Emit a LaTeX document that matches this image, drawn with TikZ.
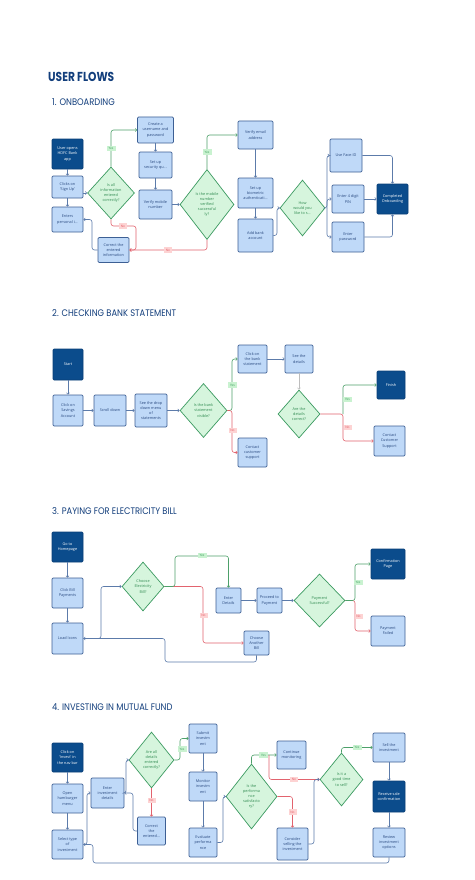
\documentclass[tikz,border=0pt]{standalone}
\usepackage{fontspec}
\usetikzlibrary{arrows.meta,shapes.geometric}
\newfontfamily\bodyf{Open Sans}
\newfontfamily\headf{Poppins}[FakeStretch=0.88]
\newfontfamily\titlef{Poppins}[FakeStretch=0.82]
\newcommand\bxf{\bodyf\fontsize{3.8}{5.2}\selectfont}
\newcommand\lblf{\bodyf\fontsize{3.2}{3.6}\selectfont}
\definecolor{boxf}{HTML}{BFD9F8}
\definecolor{boxb}{HTML}{3D5F94}
\definecolor{boxt}{HTML}{2A4A80}
\definecolor{darkf}{HTML}{0B4C8C}
\definecolor{darkb}{HTML}{0A3F78}
\definecolor{diaf}{HTML}{D6F5DD}
\definecolor{diab}{HTML}{3B9A60}
\definecolor{diat}{HTML}{2F8A50}
\definecolor{lineb}{HTML}{5C7BAA}
\definecolor{lineg}{HTML}{4DA06A}
\definecolor{liner}{HTML}{E2636E}
\definecolor{linegr}{HTML}{BDBDBD}
\definecolor{yesf}{HTML}{C9F2D0}
\definecolor{yest}{HTML}{3F9F5F}
\definecolor{nof}{HTML}{FDD3D3}
\definecolor{notx}{HTML}{E25B66}
\definecolor{headc}{HTML}{123E7C}
\tikzset{
  lbox/.style={draw=boxb, fill=boxf, rounded corners=1.2pt, line width=0.7pt, inner sep=0pt, align=center, font=\bxf, text=boxt},
  dbox/.style={lbox, fill=darkf, draw=darkb, text=white},
  dia/.style={draw=diab, fill=diaf, shape=diamond, line width=0.7pt, inner sep=0pt},
  dtext/.style={font=\bxf, text=diat, align=center, inner sep=0pt},
  conn/.style={draw=lineb, line width=0.6pt, rounded corners=2.5pt, -{Straight Barb[length=1.5pt,width=3pt]}},
  gconn/.style={conn, draw=lineg},
  rconn/.style={conn, draw=liner},
  grconn/.style={conn, draw=linegr},
  yes/.style={fill=yesf, text=yest, font=\lblf, inner sep=0pt, minimum width=9pt, minimum height=5.5pt},
  no/.style={fill=nof, text=notx, font=\lblf, inner sep=0pt, minimum width=8pt, minimum height=5.5pt},
  head/.style={anchor=west, font=\headf\fontsize{9.5}{9.5}\selectfont, text=headc, inner sep=0pt}
}
\newcommand\bx[6]{\node[#1, minimum width=#4pt, minimum height=#5pt] (#2) at #3 {#6};}
\newcommand\dm[5]{\node[dia, minimum width=#3pt, minimum height=#4pt, label={[dtext]center:{#5}}] (#1) at #2 {};}
\begin{document}
\begin{tikzpicture}[x=1pt,y=-1pt]
\useasboundingbox[fill=white] (0,0) rectangle (474,880);
\node[anchor=west, font=\titlef\bfseries\fontsize{13}{13}\selectfont, text=headc, inner sep=0pt] (title) at (48,77) {USER FLOWS};
\node[head] (h1) at (52,102.5) {1. ONBOARDING};
\node[head] (h2) at (52,313.5) {2. CHECKING BANK STATEMENT};
\node[head] (h3) at (52,511) {3. PAYING FOR ELECTRICITY BILL};
\node[head] (h4) at (52,707.5) {4. INVESTING IN MUTUAL FUND};

% ---------- 1 ----------
\bx{dbox}{u1}{(67.5,154)}{31}{30}{User opens\\HDFC Bank\\app}
\bx{lbox}{c1}{(67.5,187)}{31}{22}{Clicks on\\‘Sign Up’}
\bx{lbox}{e1}{(67.5,219.5)}{31}{25}{Enters\\personal i...}
\dm{d1}{(111,193)}{47}{52}{Is all\\information\\entered\\correctly?}
\bx{lbox}{cu}{(155.5,130)}{36}{26}{Create a\\username and\\password}
\bx{lbox}{sq}{(155.5,165)}{33}{26}{Set up\\security qu...}
\bx{lbox}{vm}{(155.5,204.5)}{33}{29}{Verify mobile\\number}
\bx{lbox}{co}{(113.5,250)}{31}{25}{Correct the\\entered\\information}
\dm{d2}{(207,204.5)}{54}{70}{Is the mobile\\number\\verified\\successful\\ly?}
\bx{lbox}{ve}{(255.5,135)}{35}{28}{Verify email\\address}
\bx{lbox}{bio}{(255.5,193)}{35}{30}{Set up\\biometric\\authenticati...}
\bx{lbox}{ab}{(255.5,235.5)}{35}{33}{Add bank\\account}
\dm{d3}{(302.5,208)}{45}{56}{How\\would you\\like to s...}
\bx{lbox}{fa}{(346,155.5)}{32}{33}{Use Face-ID}
\bx{lbox}{pin}{(348,199)}{32}{28}{Enter 4 digit\\PIN}
\bx{lbox}{pw}{(348,237)}{32}{30}{Enter\\password}
\bx{dbox}{comp}{(392.5,199)}{31}{30}{Completed\\Onboarding}

\draw[conn] (u1) -- (c1);
\draw[conn] (c1) -- (e1);
\draw[conn] (c1.east |- d1.west) -- (d1.west);
\draw[gconn] (d1.north) |- (cu.west);
\draw[conn] (cu) -- (sq);
\draw[conn] (sq) -- (vm);
\draw[conn] (vm.east) -- (d2.west);
\draw[rconn] (d1.south) -- (111,226) -- (136,226) -- (136,250) -- (co.east);
\draw[rconn] (d2.south) |- (co.east);
\draw[conn] (co.west) -- (92,250) |- (e1.east);
\draw[gconn] (d2.north) |- (ve.west);
\draw[conn] (ve) -- (bio);
\draw[conn] (bio) -- (ab);
\draw[conn] (ab.east) -- (277,235.5) |- (d3.west);
\draw[conn] (d3.east) -- (327,208) |- (fa.west);
\draw[conn] (327,208) |- (pin.west);
\draw[conn] (327,208) |- (pw.west);
\draw[conn] (fa.east) -| (comp.north);
\draw[conn] (pin.east) -- (comp.west);
\draw[conn] (pw.east) -| (comp.south);
\node[yes] (y1) at (111,148.5) {Yes};
\node[no] (n1) at (123,226) {No};
\node[no] (n2) at (168,250) {No};
\node[yes] (y2) at (207,152) {Yes};

% ---------- 2 ----------
\bx{dbox}{st}{(68,364.5)}{30}{31}{Start}
\bx{lbox}{sa}{(68,410.5)}{30}{31}{Click on\\Savings\\Account}
\bx{lbox}{sd}{(110,410.5)}{32}{31}{Scroll down}
\bx{lbox}{dd}{(151,410.5)}{32}{33}{See the drop\\down menu\\of\\statements}
\dm{d4}{(203.5,410.5)}{47}{54}{Is the bank\\statement\\visible?}
\bx{lbox}{cb}{(252.5,359)}{29}{28}{Click on\\the bank\\statement}
\bx{lbox}{sdt}{(299,359)}{28}{28}{See the\\details}
\bx{lbox}{ccs}{(252.5,452.5)}{29}{29}{Contact\\customer\\support}
\dm{d5}{(299,414)}{42}{48}{Are the\\details\\correct?}
\bx{dbox}{fin}{(391,385)}{28}{28}{Finish}
\bx{lbox}{ccs2}{(389.5,441)}{31}{30}{Contact\\Customer\\Support}

\draw[conn] (st) -- (sa);
\draw[conn] (sa) -- (sd);
\draw[conn] (sd) -- (dd);
\draw[conn] (dd) -- (d4);
\draw[gconn] (d4.east) -- (232,410.5) |- (cb.west);
\draw[rconn] (d4.east) -- (232,410.5) |- (ccs.west);
\draw[conn] (cb) -- (sdt);
\draw[grconn] (sdt) -- (d5);
\draw[gconn] (343,414) |- (fin.west);
\draw[rconn] (d5.east) -- (343,414) |- (ccs2.west);
\node[yes] (y3) at (232.5,385) {Yes};
\node[no] (n3) at (232.5,430.5) {No};
\node[yes] (y4) at (347.5,399.5) {Yes};
\node[no] (n4) at (347.5,427.5) {No};

% ---------- 3 ----------
\bx{dbox}{gh}{(67.5,547)}{31}{30}{Go to\\Homepage}
\bx{lbox}{cbp}{(67.5,593)}{31}{30}{Click Bill\\Payments}
\bx{lbox}{li}{(67.5,638.5)}{31}{31}{Load Icons}
\dm{d6}{(143,586.5)}{42}{49}{Choose\\Electricity\\Bill?}
\bx{lbox}{ed}{(228.5,600.5)}{25}{25}{Enter\\Details}
\bx{lbox}{pp}{(269.5,600.5)}{25}{25}{Proceed to\\Payment}
\dm{d7}{(319.5,600.5)}{51}{53}{Payment\\Successful?}
\bx{dbox}{cp}{(388,564)}{34}{30}{Confirmation\\Page}
\bx{lbox}{pf}{(388,631)}{34}{30}{Payment\\Failed}
\bx{lbox}{cab}{(256.5,643)}{25}{24}{Choose\\Another\\Bill}

\draw[conn] (gh) -- (cbp);
\draw[conn] (cbp) -- (li);
\draw[conn] (li.east) -- (101,638.5) |- (d6.west);
\draw[rconn] (d6.east) -- (203,586.5) |- (cab.west);
\draw[gconn] (d6.east) -- (175,586.5) -- (175,556) -| (ed.north);
\draw[conn] (ed) -- (pp);
\draw[conn] (pp) -- (d7);
\draw[rconn] (d7.east) -- (355,600.5) |- (pf.west);
\draw[gconn] (d7.east) -- (355,600.5) |- (cp.west);
\draw[conn] (cab.south) -- (256.5,662) -- (165,662) -- (165,638.5) -- (li.east);
\node[yes] (y5) at (202,555.5) {Yes};
\node[no] (n5) at (203.5,615.5) {No};
\node[yes] (y6) at (358,582.5) {Yes};
\node[no] (n6) at (358.5,616.5) {No};

% ---------- 4 ----------
\bx{dbox}{ci}{(67.5,757.5)}{31}{29}{Click on\\‘Invest’ in\\the nav bar}
\bx{lbox}{oh}{(67.5,798.5)}{31}{29}{Open\\hamburger\\menu}
\bx{lbox}{st4}{(67.5,844.5)}{31}{29}{Select type\\of\\investment}
\bx{lbox}{ei}{(107.5,793)}{33}{30}{Enter\\investment\\details}
\dm{d8}{(151.5,760)}{45}{56}{Are all\\details\\entered\\correctly?}
\bx{lbox}{ce}{(151.5,831)}{28}{28}{Correct\\the\\entered...}
\bx{lbox}{si}{(203,738.5)}{28}{29}{Submit\\investm\\ent}
\bx{lbox}{mi}{(203,786.5)}{28}{29}{Monitor\\investm\\ent}
\bx{lbox}{ep}{(203,842.5)}{28}{29}{Evaluate\\performa\\nce}
\dm{d9}{(251.5,796.5)}{51}{65}{Is the\\performa\\nce\\satisfacto\\ry?}
\bx{lbox}{cm}{(291.5,755)}{29}{28}{Continue\\monitoring}
\bx{lbox}{cs}{(292.5,844)}{31}{32}{Consider\\selling the\\investment}
\dm{d10}{(341.5,779.5)}{43}{53}{Is it a\\good time\\to sell?}
\bx{lbox}{sell}{(389,747.5)}{32}{29}{Sell the\\investment}
\bx{dbox}{rsc}{(389,796.5)}{32}{31}{Receive sale\\confirmation}
\bx{lbox}{rio}{(389,842.5)}{32}{29}{Review\\investment\\options}

\draw[conn] (ci) -- (oh);
\draw[conn] (oh) -- (st4);
\draw[conn] (st4.east) -- (87,844.5) |- (ei.west);
\draw[conn] (ei.east) -- (126,793) |- (d8.west);
\draw[rconn] (d8) -- (ce);
\draw[conn] (ce.west) -- (133,831) |- (ei.east);
\draw[gconn] (d8.east) -- (180,760) |- (si.west);
\draw[conn] (si) -- (mi);
\draw[conn] (mi) -- (ep);
\draw[conn] (ep.east) -- (223,842.5) |- (d9.west);
\draw[gconn] (d9.north) |- (cm.west);
\coordinate (rb) at (269,755);
\draw[rconn] (rb) |- (d10.west);
\draw[rconn] (d9.east) -| (cs.north);
\draw[conn] (cs.east) -- (314,844) |- (d10.west);
\draw[gconn] (d10.north) |- (sell.west);
\draw[conn] (sell) -- (rsc);
\draw[conn] (rsc) -- (rio);
\draw[conn] (rio.south) -- (389,863) -- (93,863) -- (93,844.5) -- (st4.east);
\node[no] (n7) at (151.5,800.5) {No};
\node[yes] (y7) at (182,749) {Yes};
\node[yes] (y8) at (263.5,755) {Yes};
\node[no] (n8) at (294,779.5) {No};
\node[no] (n9) at (292.5,812) {No};
\node[yes] (y9) at (357,747.5) {Yes};
\end{tikzpicture}
\end{document}
